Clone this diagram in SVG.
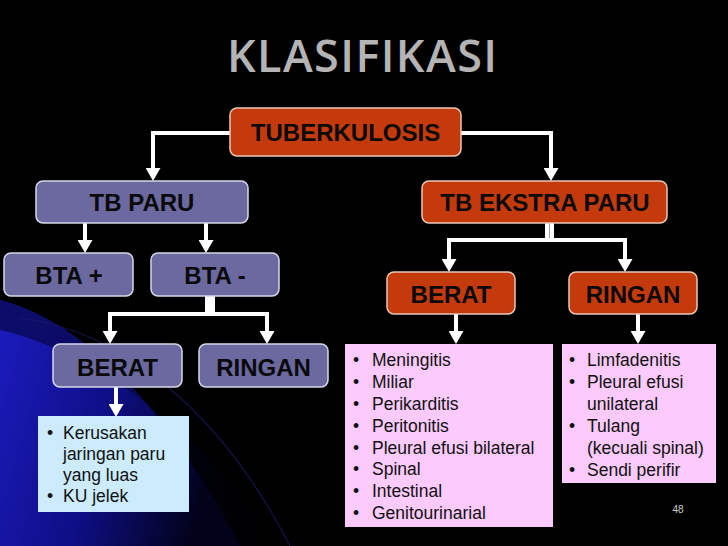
<svg xmlns="http://www.w3.org/2000/svg" width="728" height="546" viewBox="0 0 728 546">
<defs>
  <linearGradient id="swirl" x1="0" y1="0" x2="1" y2="0.3">
    <stop offset="0" stop-color="#1c1cc0"/>
    <stop offset="0.55" stop-color="#0e0e85"/>
    <stop offset="1" stop-color="#02021a"/>
  </linearGradient>
  <linearGradient id="swirl2" x1="0" y1="0" x2="1" y2="0">
    <stop offset="0" stop-color="#0a0a60" stop-opacity="0.9"/>
    <stop offset="1" stop-color="#000010" stop-opacity="0"/>
  </linearGradient>
  <marker id="arr" markerUnits="userSpaceOnUse" markerWidth="13" markerHeight="15" refX="9" refY="7.5" orient="auto">
    <path d="M0,0 L13,7.5 L0,15 Z" fill="#ffffff"/>
  </marker>
  <style>
    .purple { fill: #6b69a0; stroke: #d8d8e8; stroke-width: 1.5; }
    .red { fill: #c53a0c; stroke: #e8c8b8; stroke-width: 1.5; }
    .lbl { font-family: "Liberation Sans", Arial, sans-serif; font-weight: bold; font-size: 24px; fill: #0a0a0a; text-anchor: middle; }
    .lst { font-family: "Liberation Sans", Arial, sans-serif; font-size: 17.5px; fill: #111111; }
    .conn { fill: none; stroke: #ffffff; stroke-width: 4; }
    .blue { fill: #ccebfc; }
    .pink { fill: #fccafc; }
  </style>
</defs>
<rect x="0" y="0" width="728" height="546" fill="#000000"/>
<g id="background">
  <path d="M0,300 C70,318 160,390 240,546 L0,546 Z" fill="url(#swirl)"/>
  <path d="M0,330 C90,350 200,430 280,546 L240,546 C160,390 70,318 0,300 Z" fill="url(#swirl2)"/>
  <path d="M20,318 C120,330 220,410 290,546" fill="none" stroke="#1c1c70" stroke-width="1.2" opacity="0.7"/>
</g>
<text x="362" y="72" font-family="'Open Sans', 'DejaVu Sans', sans-serif" font-weight="600" font-size="45" fill="#b4b4b4" textLength="270" lengthAdjust="spacing" text-anchor="middle">KLASIFIKASI</text>

<g id="connectors">
  <path class="conn" d="M230,133 H153 V177" marker-end="url(#arr)"/>
  <path class="conn" d="M461,133 H551 V177" marker-end="url(#arr)"/>
  <path class="conn" d="M85,223 V249" marker-end="url(#arr)"/>
  <path class="conn" d="M206,223 V249" marker-end="url(#arr)"/>
  <rect x="205" y="296" width="10" height="19" fill="#ffffff"/>
  <path class="conn" d="M110,316 V314 H267 V316"/>
  <path class="conn" d="M110,313 V340" marker-end="url(#arr)"/>
  <path class="conn" d="M267,313 V340" marker-end="url(#arr)"/>
  <path class="conn" d="M116,387 V413" marker-end="url(#arr)"/>
  <rect x="545" y="223" width="9" height="18" fill="#ffffff"/>
  <line x1="549.5" y1="224" x2="549.5" y2="238" stroke="#9a9a9a" stroke-width="1"/>
  <path class="conn" d="M449,242 V240 H625 V242"/>
  <path class="conn" d="M449,239 V268" marker-end="url(#arr)"/>
  <path class="conn" d="M625,239 V268" marker-end="url(#arr)"/>
  <path class="conn" d="M456,314 V340" marker-end="url(#arr)"/>
  <path class="conn" d="M638,314 V340" marker-end="url(#arr)"/>
</g>

<g id="tuberkulosis">
  <rect class="red" x="230" y="108" width="231" height="48" rx="7"/>
  <text class="lbl" x="345.5" y="141">TUBERKULOSIS</text>
</g>
<g id="tb-paru">
  <rect class="purple" x="36" y="181" width="212" height="42" rx="7"/>
  <text class="lbl" x="142" y="211">TB PARU</text>
</g>
<g id="tb-ekstra-paru">
  <rect class="red" x="422" y="181" width="245" height="42" rx="7"/>
  <text class="lbl" x="545" y="211">TB EKSTRA PARU</text>
</g>
<g id="bta-plus">
  <rect class="purple" x="4" y="253" width="129" height="43" rx="7"/>
  <text class="lbl" x="69" y="284">BTA +</text>
</g>
<g id="bta-minus">
  <rect class="purple" x="151" y="253" width="128" height="43" rx="7"/>
  <text class="lbl" x="215" y="284">BTA -</text>
</g>
<g id="berat-paru">
  <rect class="purple" x="53" y="344" width="129" height="43" rx="7"/>
  <text class="lbl" x="117.5" y="376">BERAT</text>
</g>
<g id="ringan-paru">
  <rect class="purple" x="199" y="344" width="129" height="43" rx="7"/>
  <text class="lbl" x="263.5" y="376">RINGAN</text>
</g>
<g id="berat-ekstra">
  <rect class="red" x="387" y="272" width="128" height="42" rx="7"/>
  <text class="lbl" x="451" y="303">BERAT</text>
</g>
<g id="ringan-ekstra">
  <rect class="red" x="569" y="272" width="128" height="42" rx="7"/>
  <text class="lbl" x="633" y="303">RINGAN</text>
</g>

<g id="list-berat-paru">
  <rect class="blue" x="38" y="416" width="151" height="96"/>
  <text class="lst">
    <tspan x="47" y="439">•</tspan><tspan x="63" y="439">Kerusakan</tspan>
    <tspan x="63" y="460">jaringan paru</tspan>
    <tspan x="63" y="481">yang luas</tspan>
    <tspan x="47" y="502">•</tspan><tspan x="63" y="502">KU jelek</tspan>
  </text>
</g>
<g id="list-berat-ekstra">
  <rect class="pink" x="345" y="344" width="208" height="183"/>
  <text class="lst">
    <tspan x="353" y="366">•</tspan><tspan x="372" y="366">Meningitis</tspan>
    <tspan x="353" y="388">•</tspan><tspan x="372" y="388">Miliar</tspan>
    <tspan x="353" y="410">•</tspan><tspan x="372" y="410">Perikarditis</tspan>
    <tspan x="353" y="432">•</tspan><tspan x="372" y="432">Peritonitis</tspan>
    <tspan x="353" y="454">•</tspan><tspan x="372" y="454">Pleural efusi bilateral</tspan>
    <tspan x="353" y="475">•</tspan><tspan x="372" y="475">Spinal</tspan>
    <tspan x="353" y="497">•</tspan><tspan x="372" y="497">Intestinal</tspan>
    <tspan x="353" y="519">•</tspan><tspan x="372" y="519">Genitourinarial</tspan>
  </text>
</g>
<g id="list-ringan-ekstra">
  <rect class="pink" x="562" y="344" width="154" height="139"/>
  <text class="lst">
    <tspan x="569" y="366">•</tspan><tspan x="587" y="366">Limfadenitis</tspan>
    <tspan x="569" y="388">•</tspan><tspan x="587" y="388">Pleural efusi</tspan>
    <tspan x="587" y="410">unilateral</tspan>
    <tspan x="569" y="432">•</tspan><tspan x="587" y="432">Tulang</tspan>
    <tspan x="587" y="454">(kecuali spinal)</tspan>
    <tspan x="569" y="476">•</tspan><tspan x="587" y="476">Sendi perifir</tspan>
  </text>
</g>
<text x="678" y="513" font-family="'Liberation Sans', Arial, sans-serif" font-size="10" fill="#cccccc" text-anchor="middle">48</text>
</svg>
